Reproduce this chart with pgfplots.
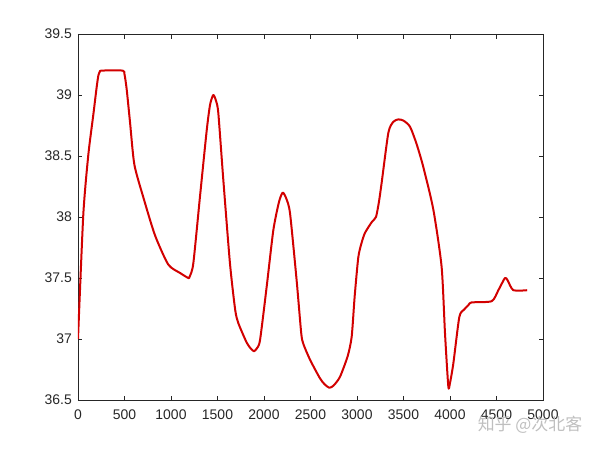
\documentclass[border=0pt]{standalone}
\usepackage{fontspec}
\setmainfont{Liberation Sans}
\newfontfamily\cjk{Noto Sans CJK SC}
\usepackage{pgfplots}
\pgfplotsset{compat=1.18}
\definecolor{lred}{RGB}{210,0,0}
\definecolor{axgray}{RGB}{38,38,38}
\begin{document}
\begin{tikzpicture}
\useasboundingbox (-78bp,-50bp) rectangle (522bp,400bp);
\begin{axis}[
  at={(0,0)}, anchor=south west,
  scale only axis, width=465bp, height=366bp,
  xmin=0, xmax=5000, ymin=36.5, ymax=39.5,
  xtick={0,500,...,5000}, ytick={36.5,37,...,39.5},
  scaled ticks=false,
  /pgf/number format/.cd, 1000 sep={}, assume math mode=true, /pgfplots/.cd,
  tick align=inside, major tick length=4.5bp,
  axis line style={color=axgray, line width=0.6bp},
  every tick/.style={color=axgray, line width=0.6bp},
  ticklabel style={font=\fontsize{14}{16}\selectfont, color=axgray},
  yticklabel style={anchor=east, inner sep=0pt, xshift=-6bp},
  xticklabel style={anchor=north, inner sep=0pt, yshift=-10bp},
]
\addplot[color=lred, line width=2bp, line join=round, smooth, tension=0.4] coordinates {
(0,37.0) (57,38.02) (111,38.51) (165,38.84) (200,39.06) (219,39.16) (235,39.19) (250,39.2)
(480,39.2) (500,39.17) (523,39.05) (559,38.78) (606,38.43) (703,38.16) (828,37.85)
(971,37.61) (1100,37.54) (1186,37.5) (1200,37.51) (1240,37.62) (1312,38.17) (1384,38.71)
(1420,38.92) (1455,39.0) (1485,38.95) (1509,38.85) (1563,38.30) (1634,37.62) (1690,37.24) (1724,37.13)
(1814,36.97) (1860,36.92) (1892,36.90) (1920,36.92) (1957,36.99) (2029,37.43) (2100,37.89) (2160,38.12)
(2201,38.20) (2240,38.15) (2280,38.03) (2351,37.48) (2400,37.05) (2423,36.96) (2495,36.83)
(2600,36.68) (2650,36.63) (2703,36.60) (2750,36.62) (2817,36.69) (2900,36.86) (2943,37.02)
(2975,37.35) (3014,37.67) (3050,37.79) (3086,37.87) (3160,37.96) (3204,38.0) (3235,38.12) (3265,38.28)
(3337,38.69) (3390,38.78) (3444,38.80) (3500,38.79) (3570,38.74) (3640,38.60) (3713,38.41)
(3821,38.06) (3910,37.59) (3946,37.05) (3982,36.61) (4000,36.64) (4036,36.80) (4100,37.18)
(4150,37.24) (4200,37.28) (4233,37.30) (4448,37.31) (4520,37.40) (4591,37.50) (4620,37.48)
(4681,37.40) (4830,37.40)
};
\end{axis}
\node[text=black!25, font=\cjk\fontsize{17}{19}\selectfont, inner sep=0pt] at (452bp,-25bp) {知乎 @次北客};
\end{tikzpicture}
\end{document}
